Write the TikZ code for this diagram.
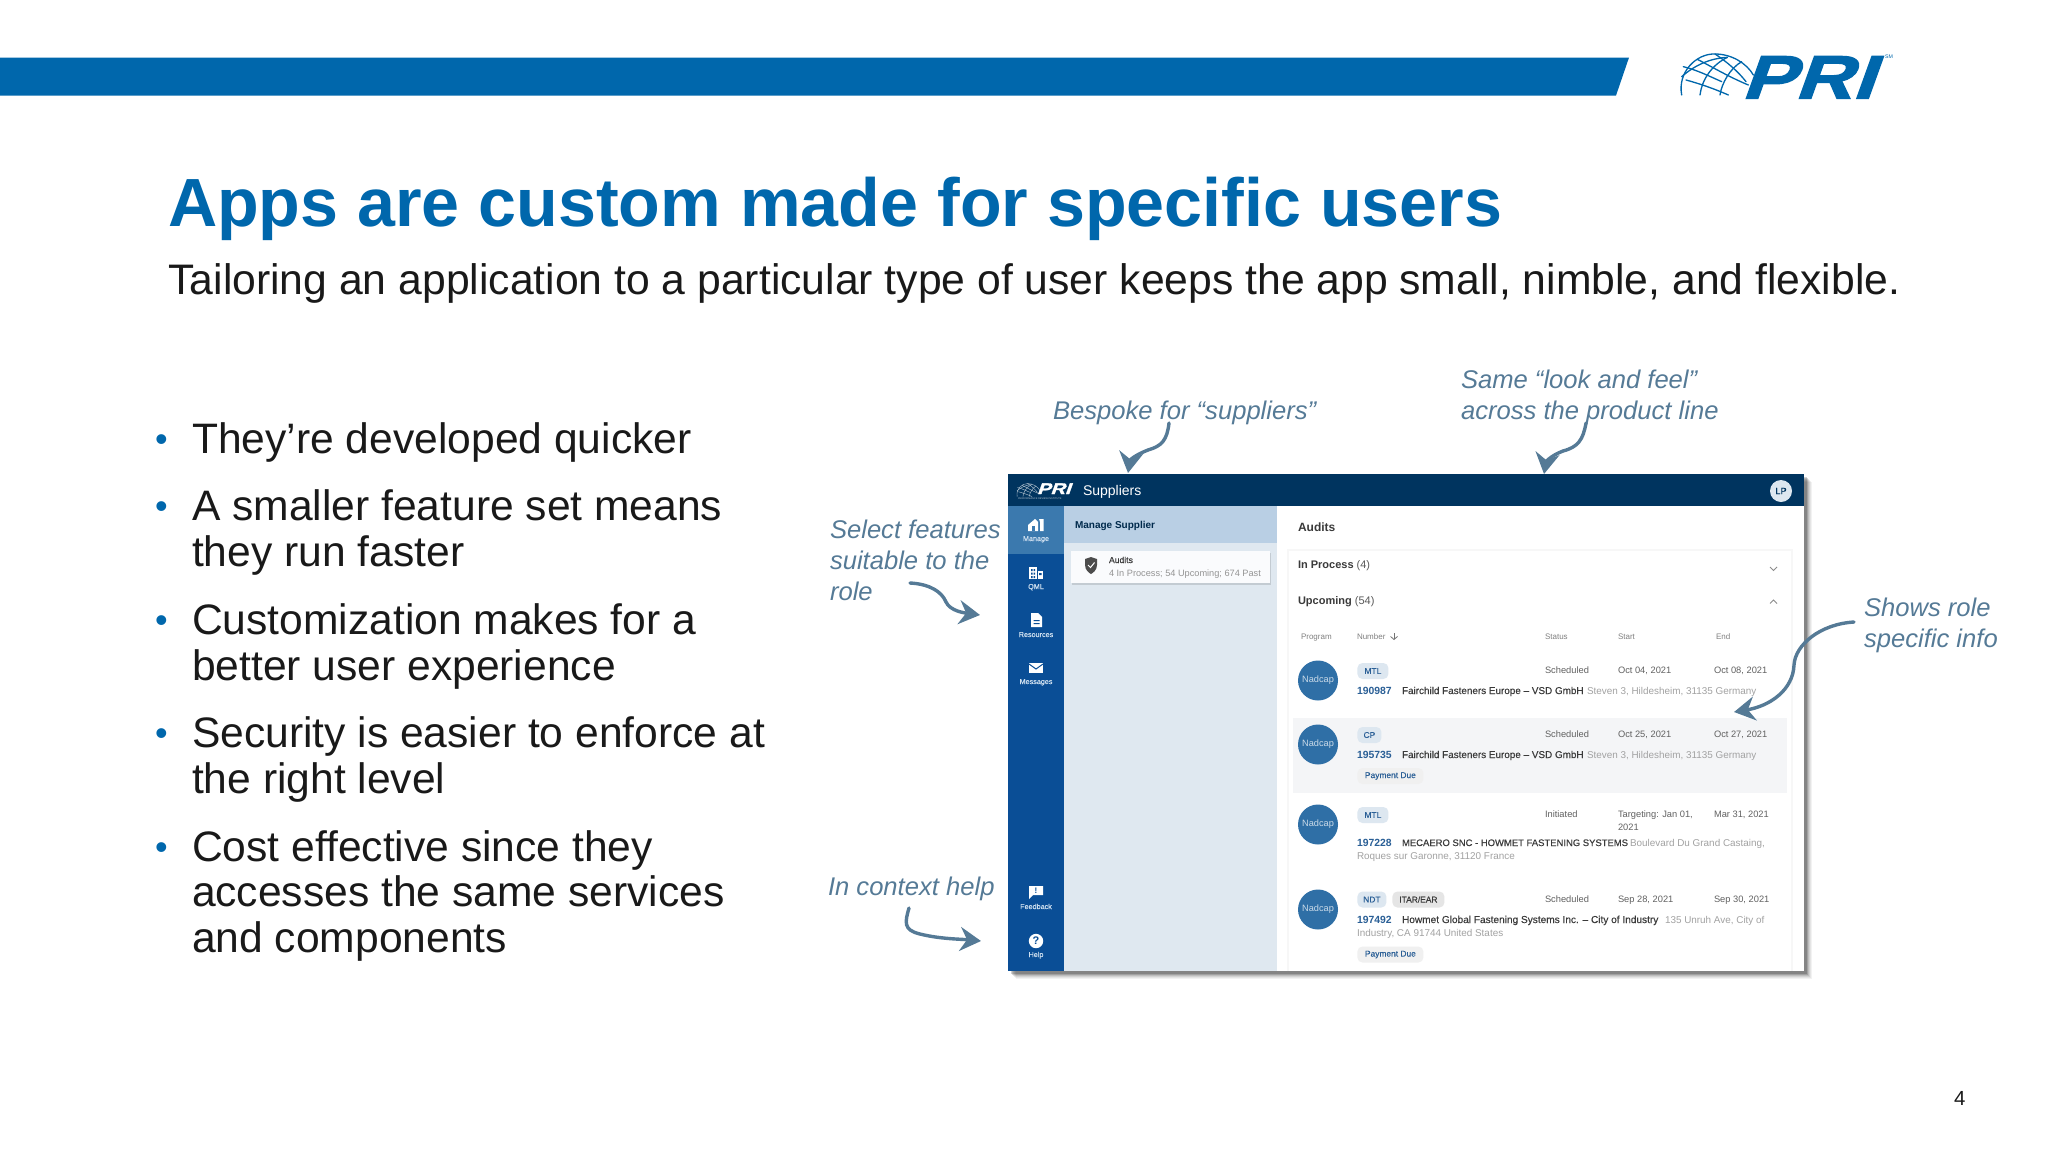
\documentclass[tikz,border=0pt]{standalone}
\usepackage{fontspec}
\usetikzlibrary{arrows.meta}
\setmainfont{Liberation Sans}
\newfontfamily\logofont[FakeSlant=0.36,FakeStretch=1.3,FakeBold=2.2]{Liberation Sans Bold}
\newfontfamily\medf[FakeBold=0.3]{Liberation Sans}
\newcommand\fsz[1]{\fontsize{#1pt}{1.15\dimexpr#1pt\relax}\selectfont}
\definecolor{pri}{HTML}{0067AC}
\definecolor{note}{HTML}{557A96}
\definecolor{navy}{HTML}{00345F}
\definecolor{side}{HTML}{0A4E96}
\definecolor{sideon}{HTML}{3B79AE}
\definecolor{panel}{HTML}{DFE8F0}
\definecolor{panelhead}{HTML}{B9CFE4}
\definecolor{circ}{HTML}{2F6FA6}
\definecolor{chipc}{HTML}{DDE7F0}
\definecolor{chipt}{HTML}{2A5F96}
\definecolor{band}{HTML}{F4F5F7}
\definecolor{dk}{HTML}{3A3A3A}
\definecolor{gr}{HTML}{A2A2A2}
\definecolor{sidetxt}{HTML}{CFE0F0}
\tikzset{
  txt/.style={anchor=base west,inner sep=0pt,outer sep=0pt},
  mid/.style={anchor=base,inner sep=0pt,outer sep=0pt},
  bullettext/.style={txt,align=left,font=\fsz{21.3},text=black!90},
  bulletdot/.style={txt,font=\fsz{18},text=pri},
  notetext/.style={txt,align=left,font=\fsz{12.8}\itshape,text=note},
  notearrow/.style={draw=note,line width=1.7pt,line cap=round,-{Stealth[length=10.5pt,width=12pt,inset=3.5pt]}},
  sidelabel/.style={mid,font=\medf\fsz{3.6},text=sidetxt},
  sideicon/.style={fill=white,draw=none},
  colhead/.style={txt,font=\fsz{4},text=black!50},
  cell/.style={txt,font=\fsz{4.65},text=black!62},
  num/.style={txt,font=\bfseries\fsz{5.2},text=chipt},
  firm/.style={txt,font=\medf\fsz{4.95},text=dk},
  addr/.style={txt,font=\fsz{4.95},text=gr},
  nad/.style={circle,fill=circ,minimum size=20pt,inner sep=0pt,font=\fsz{4.6},text=white!75!circ},
  chip/.style={rectangle,rounded corners=2.5pt,fill=chipc,inner sep=0pt,minimum height=8pt,font=\medf\fsz{4.2},text=chipt,anchor=west},
  paychip/.style={chip,fill=black!6,minimum width=33pt},
  globeline/.style={line width=#1,line cap=round},
}
\newcommand\globe[3]{%
 \begin{scope}[shift={(#1)},scale=#2,draw=#3,globeline=0.55pt*#2*3.6]
  \draw (125,195) .. controls (112,125) and (170,70) .. (225,72) .. controls (275,72) and (320,100) .. (340,135);
  \draw (125,140) .. controls (165,105) and (210,85) .. (262,82);
  \draw (138,150) .. controls (175,160) and (220,175) .. (265,195);
  \draw (172,88) .. controls (215,110) and (265,140) .. (325,165);
  \draw (225,72) .. controls (260,95) and (295,125) .. (318,155);
  \draw (180,195) .. controls (185,150) and (215,105) .. (262,82);
  \draw (240,195) .. controls (245,160) and (270,115) .. (305,95);
  \draw (130,110) .. controls (170,120) and (200,135) .. (245,155);
 \end{scope}}
\begin{document}
\begin{tikzpicture}[x=0.5pt,y=-0.5pt]
\useasboundingbox (0,0) rectangle (2048,1152);
% banner and logo
\fill[pri] (0,57.5) -- (1629,57.5) -- (1616,95.5) -- (0,95.5) -- cycle;
\globe{1640,30}{0.3333}{pri}
\node[txt,font=\logofont\fsz{30.6},text=pri] (logo) at (1741,98.5) {PRI};
\node[txt,font=\fsz{2.6},text=pri] (logosm) at (1885,58) {SM};
% headings
\node[txt,font=\bfseries\fsz{34.1},text=pri] (title) at (168,226) {Apps are custom made for specific users};
\node[txt,font=\fsz{21.34},text=black!90] (subtitle) at (168.5,294) {Tailoring an application to a particular type of user keeps the app small, nimble, and flexible.};
% bullets
\node[bulletdot] (d1) at (155,451) {•};
\node[bullettext] (b1) at (192,453) {They’re developed quicker};
\node[bulletdot] (d2) at (155,518) {•};
\node[bullettext] (b2) at (192,566) {A smaller feature set means\\[-1.8pt]they run faster};
\node[bulletdot] (d3) at (155,632) {•};
\node[bullettext] (b3) at (192,680) {Customization makes for a\\[-1.8pt]better user experience};
\node[bulletdot] (d4) at (155,745) {•};
\node[bullettext] (b4) at (192,793) {Security is easier to enforce at\\[-1.8pt]the right level};
\node[bulletdot] (d5) at (155,859) {•};
\node[bullettext] (b5) at (192,952) {Cost effective since they\\[-1.8pt]accesses the same services\\[-1.8pt]and components};
% app shadow
\foreach \o/\a in {8/0.05,7/0.06,6/0.08,5/0.1,4/0.15,3/0.18}{
  \fill[black,opacity=\a] (1008+\o,474+\o) rectangle (1804+\o,971+\o);}
% app frame
\fill[white] (1008,474) rectangle (1804,971);
\fill[navy] (1008,474) rectangle (1804,506);
\fill[side] (1008,506) rectangle (1064,971);
\fill[sideon] (1008,506) rectangle (1064,554);
\fill[panel] (1064,506) rectangle (1277,971);
\fill[panelhead] (1064,506) rectangle (1277,543);
\fill[black,opacity=0.12] (1072,553) rectangle (1271,585);
\fill[white!85!panel] (1071,551) rectangle (1270,583);
% app content card
\draw[black!3,line width=0.6pt] (1288,971) -- (1288,550) -- (1792,550) -- (1792,971);
\fill[band] (1293,718) rectangle (1787,793);
% header contents
\globe{1004,476}{0.105}{white!70!navy}
\node[txt,font=\logofont\fsz{7.7},text=white] (applogo) at (1037,494) {PRI};
\node[txt,font=\fsz{1.25},text=white!70!navy] (appinst) at (1018,499) {PERFORMANCE REVIEW INSTITUTE};
\node[txt,font=\fsz{7},text=white] (suppliers) at (1083,495) {Suppliers};
\node[circle,fill=chipc,minimum size=11pt,inner sep=0pt,font=\medf\fsz{4.6},text=navy] (lp) at (1781,491) {LP};
% sidebar
\fill[sideicon] (1028,531) -- (1028,525) -- (1035,519) -- (1038,522) -- (1038,531) -- cycle;
\fill[sideicon] (1039,519) -- (1043.5,519) -- (1043.5,531) -- (1040,531) -- (1040,522) -- cycle;
\fill[sideon] (1032,526) rectangle (1035,531);
\node[sidelabel] (s1) at (1036,541) {Manage};
\fill[sideicon] (1029,567) rectangle (1036.5,579);
\fill[sideicon] (1037.5,571) rectangle (1043,579);
\fill[side] (1031,569) rectangle (1032.5,571) (1033.5,569) rectangle (1035,571) (1031,572.5) rectangle (1032.5,574.5) (1033.5,572.5) rectangle (1035,574.5) (1031,576) rectangle (1032.5,578) (1033.5,576) rectangle (1035,578) (1039,573) rectangle (1041.5,575);
\node[sidelabel] (s2) at (1036,589) {QML};
\fill[sideicon] (1031,613) -- (1038,613) -- (1042,617) -- (1042,627) -- (1031,627) -- cycle;
\fill[side] (1033.5,620) rectangle (1039.5,621) (1033.5,623) rectangle (1039.5,624);
\node[sidelabel] (s3) at (1036,637) {Resources};
\fill[sideicon] (1029,663) rectangle (1043,673);
\draw[side,line width=0.5pt] (1029,664) -- (1036,669) -- (1043,664);
\node[sidelabel] (s4) at (1036,684) {Messages};
\fill[sideicon] (1029,886) -- (1043,886) -- (1043,895) -- (1033,895) -- (1029,899) -- cycle;
\node[inner sep=0pt,font=\bfseries\fsz{4},text=side] (fbm) at (1036,890.5) {!};
\node[sidelabel] (s5) at (1036,909) {Feedback};
\node[circle,fill=white,minimum size=7.2pt,inner sep=0pt,font=\bfseries\fsz{5.5},text=side] (helpicon) at (1036,941) {?};
\node[sidelabel] (s6) at (1036,957) {Help};
% side panel
\node[txt,font=\bfseries\fsz{5},text=navy!80!black] (ms) at (1075,528) {Manage Supplier};
\fill[black!70] (1085,559) -- (1091,557) -- (1097,559) -- (1097,565) .. controls (1097,570) and (1093,573) .. (1091,574) .. controls (1089,573) and (1085,570) .. (1085,565) -- cycle;
\draw[white,line width=0.5pt] (1088,565) -- (1090.5,567.5) -- (1094.5,562.5);
\node[txt,font=\medf\fsz{4.3},text=dk] (pa) at (1109,563) {Audits};
\node[txt,font=\fsz{4.6},text=black!42] (pb) at (1109,576) {4 In Process; 54 Upcoming; 674 Past};
% main head
\node[txt,font=\bfseries\fsz{6},text=dk] (ma) at (1298,531.5) {Audits};
\node[txt,font=\fsz{5.5},text=black!65] (ip) at (1298,568) {{\bfseries\color{dk}In Process} (4)};
\node[txt,font=\fsz{5.5},text=black!65] (up) at (1298,604.5) {{\bfseries\color{dk}Upcoming} (54)};
\draw[black!45,line width=0.4pt] (1770,567) -- (1773.5,570.5) -- (1777,567);
\draw[black!45,line width=0.4pt] (1770,603.5) -- (1773.5,600) -- (1777,603.5);
\node[colhead] (h1) at (1301,639) {Program};
\node[colhead] (h2) at (1357,639) {Number};
\draw[black!55,line width=0.4pt,-{Straight Barb[length=1.5pt,width=3.5pt]}] (1394,633) -- (1394,640);
\node[colhead] (h3) at (1545,639) {Status};
\node[colhead] (h4) at (1618,639) {Start};
\node[colhead] (h5) at (1716,639) {End};
% row 1
\node[nad] (c1) at (1318,680.5) {Nadcap};
\node[chip,minimum width=15.5pt] (t1) at (1357,671) {MTL};
\node[cell] (r1a) at (1545,673) {Scheduled};
\node[cell] (r1b) at (1618,673) {Oct 04, 2021};
\node[cell] (r1c) at (1714,673) {Oct 08, 2021};
\node[num] (r1n) at (1357,694) {190987};
\node[firm] (r1f) at (1402,694) {Fairchild Fasteners Europe – VSD GmbH};
\node[addr] (r1g) at (1587,694) {Steven 3, Hildesheim, 31135 Germany};
% row 2
\node[nad] (c2) at (1318,744.5) {Nadcap};
\node[chip,minimum width=12pt] (t2) at (1357,735) {CP};
\node[cell] (r2a) at (1545,737) {Scheduled};
\node[cell] (r2b) at (1618,737) {Oct 25, 2021};
\node[cell] (r2c) at (1714,737) {Oct 27, 2021};
\node[num] (r2n) at (1357,758) {195735};
\node[firm] (r2f) at (1402,758) {Fairchild Fasteners Europe – VSD GmbH};
\node[addr] (r2g) at (1587,758) {Steven 3, Hildesheim, 31135 Germany};
\node[paychip] (t2p) at (1357,776) {Payment Due};
% row 3
\node[nad] (c3) at (1318,824.5) {Nadcap};
\node[chip,minimum width=15.5pt] (t3) at (1357,815) {MTL};
\node[cell] (r3a) at (1545,817) {Initiated};
\node[cell] (r3b) at (1618,817) {Targeting: Jan 01,};
\node[cell] (r3b2) at (1618,830) {2021};
\node[cell] (r3c) at (1714,817) {Mar 31, 2021};
\node[num] (r3n) at (1357,846) {197228};
\node[firm,font=\medf\fsz{4.73}] (r3f) at (1402,846) {MECAERO SNC - HOWMET FASTENING SYSTEMS};
\node[addr] (r3g) at (1630,846) {Boulevard Du Grand Castaing,};
\node[addr] (r3h) at (1357,859) {Roques sur Garonne, 31120 France};
% row 4
\node[nad] (c4) at (1318,909.5) {Nadcap};
\node[chip,minimum width=14.5pt] (t4) at (1357,899.5) {NDT};
\node[chip,minimum width=26pt,fill=black!10,text=dk] (t4b) at (1392,899.5) {ITAR/EAR};
\node[cell] (r4a) at (1545,902) {Scheduled};
\node[cell] (r4b) at (1618,902) {Sep 28, 2021};
\node[cell] (r4c) at (1714,902) {Sep 30, 2021};
\node[num] (r4n) at (1357,923) {197492};
\node[firm,font=\medf\fsz{5.05}] (r4f) at (1402,923) {Howmet Global Fastening Systems Inc. – City of Industry};
\node[addr] (r4g) at (1665,923) {135 Unruh Ave, City of};
\node[addr] (r4h) at (1357,936) {Industry, CA 91744 United States};
\node[paychip] (t4p) at (1357,954.5) {Payment Due};
% notes
\node[notetext] (n1) at (1053,419) {Bespoke for “suppliers”};
\node[notetext] (n2) at (1461,388) {Same “look and feel”};
\node[notetext] (n2b) at (1461,419) {across the product line};
\node[notetext] (n3) at (830,538) {Select features};
\node[notetext] (n3b) at (830,569) {suitable to the};
\node[notetext] (n3c) at (830,600) {role};
\node[notetext] (n4) at (828,895) {In context help};
\node[notetext] (n5) at (1864,616) {Shows role};
\node[notetext] (n5b) at (1864,647) {specific info};
\coordinate (a1s) at (1169,423); \coordinate (a1e) at (1128,473);
\coordinate (a2s) at (1586,423); \coordinate (a2e) at (1544,474);
\coordinate (a3s) at (910,583); \coordinate (a3e) at (980,615);
\coordinate (a4s) at (909,908); \coordinate (a4e) at (981,941);
\coordinate (a5s) at (1854,622); \coordinate (a5e) at (1734,712);
\draw[notearrow] (a1s) .. controls (1167,440) and (1162,446) .. (1148,450) .. controls (1135,455) and (1130,460) .. (a1e);
\draw[notearrow] (a2s) .. controls (1583,440) and (1578,447) .. (1563,451) .. controls (1550,456) and (1546,462) .. (a2e);
\draw[notearrow] (a3s) .. controls (930,584) and (942,592) .. (946,602) .. controls (950,611) and (965,613) .. (a3e);
\draw[notearrow] (a4s) .. controls (905,922) and (903,930) .. (920,934) .. controls (940,939) and (960,939) .. (a4e);
\draw[notearrow] (a5s) .. controls (1820,624) and (1795,645) .. (1794,665) .. controls (1793,690) and (1770,706) .. (a5e);
\node[txt,font=\fsz{10.2},text=black!90] (pg) at (1954,1105) {4};
\end{tikzpicture}
\end{document}
